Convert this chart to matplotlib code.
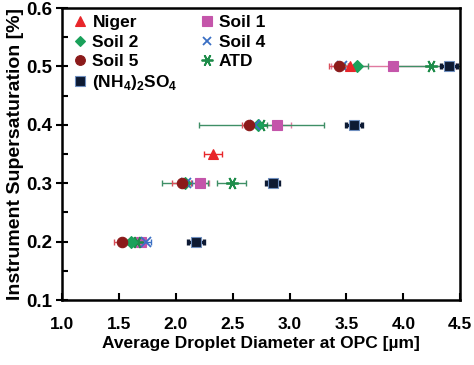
import matplotlib
matplotlib.use('Agg')
import matplotlib.pyplot as plt
from matplotlib.lines import Line2D
from matplotlib.ticker import MultipleLocator, FormatStrFormatter

plt.rcParams['font.family'] = ['Liberation Sans', 'DejaVu Sans']
plt.rcParams['font.weight'] = 'bold'
plt.rcParams['mathtext.fontset'] = 'custom'
plt.rcParams['mathtext.rm'] = 'Liberation Sans:bold'
plt.rcParams['mathtext.bf'] = 'Liberation Sans:bold'

# ---- data (diameter [um], supersaturation [%], x error) ----
niger_x  = [3.53, 2.33]
niger_y  = [0.50, 0.35]
niger_e  = [0.05, 0.08]

soil1_x  = [3.91, 2.89, 2.21, 1.69]
soil1_y  = [0.50, 0.40, 0.30, 0.20]
soil1_e  = [0.55, 0.12, 0.08, 0.05]

soil2_x  = [3.59, 2.72, 2.08, 1.61]
soil2_y  = [0.50, 0.40, 0.30, 0.20]
soil2_e  = [0.10, 0.08, 0.20, 0.04]

soil4_x  = [3.46, 2.70, 2.09, 1.74]
soil4_y  = [0.50, 0.40, 0.30, 0.20]
soil4_e  = [0.05, 0.05, 0.05, 0.04]

soil5_x  = [3.43, 2.64, 2.05, 1.53]
soil5_y  = [0.50, 0.40, 0.30, 0.20]
soil5_e  = [0.08, 0.06, 0.08, 0.07]

atd_x    = [4.24, 2.75, 2.49, 1.66]
atd_y    = [0.50, 0.40, 0.30, 0.20]
atd_e    = [0.30, 0.55, 0.13, 0.05]

nh4_x    = [4.40, 3.57, 2.85, 2.18]
nh4_y    = [0.50, 0.40, 0.30, 0.20]
nh4_e    = [0.07, 0.07, 0.06, 0.07]

# ---- styles ----
series = [
    # label, x, y, err, marker, face, edge, ecolor, size
    ('Soil 1', soil1_x, soil1_y, soil1_e, 's', '#c455aa', '#c455aa', '#e07aa0', 7.5),
    ('ATD',    atd_x,   atd_y,   atd_e,   (6, 2, 90), '#1e8c4a', '#1e8c4a', '#3f8f66', 9),
    ('Soil 2', soil2_x, soil2_y, soil2_e, 'D', '#1aa15a', '#1aa15a', '#3f8f66', 6),
    ('Soil 4', soil4_x, soil4_y, soil4_e, 'x', '#3a6fc4', '#3a6fc4', '#3a6fc4', 6.5),
    ('Niger',  niger_x, niger_y, niger_e, '^', '#e8262a', '#e8262a', '#e8262a', 7.5),
    ('Soil 5', soil5_x, soil5_y, soil5_e, 'o', '#8b1a1a', '#8b1a1a', '#d94f5a', 7.5),
    ('(NH$_4$)$_2$SO$_4$', nh4_x, nh4_y, nh4_e, 's', '#0d1a33', '#6f8fbf', '#0d1a33', 7.5),
]

fig = plt.figure(figsize=(4.74, 3.65), dpi=100)
ax = fig.add_axes([0.131, 0.178, 0.840, 0.800])

handles = {}
for lab, xs, ys, es, mk, fc, ec, erc, ms in series:
    is_nh4 = lab.startswith('(NH')
    lw_e = 2.4 if is_nh4 else 1.0
    cap = 2.5 if is_nh4 else 2
    ax.errorbar(xs, ys, xerr=es, fmt='none', ecolor=erc, elinewidth=lw_e,
                capsize=cap, capthick=lw_e, zorder=2)
    mew = 1.3 if (mk == 'x' or isinstance(mk, tuple)) else 0.8
    ax.plot(xs, ys, ls='none', marker=mk, ms=ms, mfc=fc, mec=ec, mew=mew, zorder=3)
    handles[lab] = Line2D([], [], ls='none', marker=mk, ms=ms - 0.5, mfc=fc,
                          mec=ec, mew=mew)

order = ['Niger', 'Soil 2', 'Soil 5', '(NH$_4$)$_2$SO$_4$', 'Soil 1', 'Soil 4', 'ATD']
ax.legend([handles[k] for k in order], order, ncol=2, frameon=False,
          loc='upper left', bbox_to_anchor=(0.0, 1.0), fontsize=12.5,
          handletextpad=0.05, handlelength=1.3, columnspacing=1.0,
          labelspacing=0.25, borderaxespad=0.0)

ax.set_xlim(1.0, 4.5)
ax.set_ylim(0.1, 0.6)
ax.xaxis.set_major_locator(MultipleLocator(0.5))
ax.yaxis.set_major_locator(MultipleLocator(0.1))
ax.yaxis.set_minor_locator(MultipleLocator(0.05))
ax.xaxis.set_major_formatter(FormatStrFormatter('%.1f'))
ax.yaxis.set_major_formatter(FormatStrFormatter('%.1f'))
ax.tick_params(axis='x', which='major', direction='in', length=5, width=1.5,
               labelsize=12.5, pad=12)
ax.tick_params(axis='y', which='major', direction='inout', length=8, width=1.5,
               labelsize=13.5, pad=3)
ax.tick_params(axis='y', which='minor', direction='in', length=4, width=1.5)
for sp in ax.spines.values():
    sp.set_linewidth(1.8)

ax.set_xlabel('Average Droplet Diameter at OPC [µm]', fontsize=12.5,
              fontweight='bold', labelpad=3)
ax.set_ylabel('Instrument Supersaturation [%]', fontsize=14,
              fontweight='bold', labelpad=2)

fig.savefig('out.png', dpi=100)
